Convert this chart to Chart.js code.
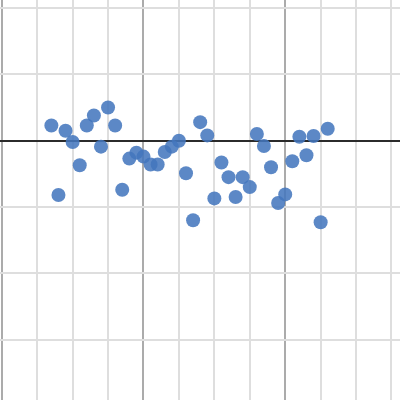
<!DOCTYPE html>
<html>
<head>
<meta charset="utf-8">
<script src="https://cdn.jsdelivr.net/npm/chart.js@4"></script>
<style>
  body { margin: 0; background: #fff; }
</style>
</head>
<body>
<canvas id="scatter" width="400" height="400"></canvas>
<script type="text/javascript">
  // data
  var xValues = [7, 8, 9, 10, 11, 12, 13, 14, 15, 16,
                 17, 18, 19, 20, 21, 22, 23, 24, 25, 26,
                 27, 28, 29, 30, 31, 32, 33, 34, 35, 36,
                 37, 38, 39, 40, 41, 42, 43, 44, 45, 46];
  var yValues = [0.23, -0.82, 0.15, -0.02, -0.37, 0.23, 0.38, -0.09, 0.50, 0.23,
                 -0.74, -0.27, -0.18, -0.24, -0.36, -0.36, -0.17, -0.09, 0.00, -0.49,
                 -1.20, 0.28, 0.08, -0.87, -0.33, -0.55, -0.85, -0.55, -0.70, 0.10,
                 -0.08, -0.40, -0.94, -0.81, -0.31, 0.06, -0.22, 0.07, -1.23, 0.18];
  var xTicks = [0, 5, 10, 15, 20, 25, 30, 35, 40, 45, 50, 55];
  var yTicks = [-3, -2, -1, 0, 1, 2];

  var points = xValues.map(function (x, i) { return { x: x, y: yValues[i] }; });

  var chart = document.getElementById("scatter");
  var myChart = new Chart(chart, {
      type: 'scatter',
      data: {
          datasets: [{
              data: points,
              backgroundColor: 'rgba(68,118,190,0.87)',
              borderWidth: 0,
              pointRadius: 7,
              pointHoverRadius: 7
          }]
      },
      options: {
          responsive: false,
          animation: false,
          layout: { padding: 0, autoPadding: false },
          plugins: { legend: { display: false }, tooltip: { enabled: false } },
          scales: {
              x: {
                  type: 'linear',
                  min: -0.25,
                  max: 56.2,
                  afterBuildTicks: function (axis) {
                      axis.ticks = xTicks.map(function (v) { return { value: v }; });
                  },
                  ticks: { display: false },
                  border: { display: false },
                  grid: {
                      drawTicks: false,
                      lineWidth: 2,
                      color: function (ctx) {
                          return ctx.tick && ctx.tick.value % 20 === 0 ? '#ababab' : '#dedede';
                      }
                  }
              },
              y: {
                  type: 'linear',
                  min: -3.911,
                  max: 2.122,
                  afterBuildTicks: function (axis) {
                      axis.ticks = yTicks.map(function (v) { return { value: v }; });
                  },
                  ticks: { display: false },
                  border: { display: false },
                  grid: {
                      drawTicks: false,
                      lineWidth: 2,
                      color: function (ctx) {
                          return ctx.tick && ctx.tick.value === 0 ? '#2b2b2b' : '#dedede';
                      }
                  }
              }
          }
      }
  });
</script>
</body>
</html>
